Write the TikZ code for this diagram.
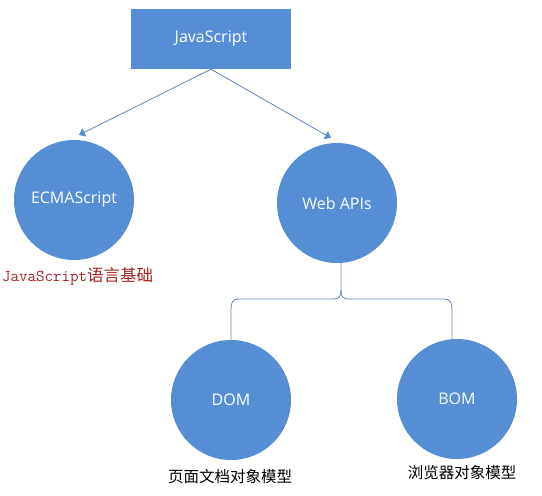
\documentclass[tikz,border=0pt]{standalone}
\usepackage{fontspec}
\setmainfont{Open Sans}
\newfontfamily\cjk{Noto Sans CJK SC}
\usetikzlibrary{arrows.meta}
\definecolor{boxblue}{RGB}{85,142,213}
\definecolor{linkblue}{RGB}{95,135,185}
\definecolor{labelred}{RGB}{165,35,35}
\begin{document}
\begin{tikzpicture}[x=1pt,y=-1pt,
  topbox/.style={fill=boxblue, minimum width=160pt, minimum height=60pt, inner sep=0pt, text=white, font=\fontsize{16}{19}\selectfont},
  bubble/.style={circle, fill=boxblue, minimum size=120pt, inner sep=0pt, text=white, font=\fontsize{16}{19}\selectfont},
  link/.style={draw=linkblue, line width=0.8pt},
  arrowlink/.style={link, -{Triangle[width=9pt,length=6pt,color=boxblue]}},
  cnlabel/.style={font=\cjk\fontsize{15.5}{18}\selectfont, text=black, inner sep=0pt}
]
\useasboundingbox (0,0) rectangle (542,496);
\node[topbox] (js) at (211,39) {JavaScript};
\node[bubble] (ecma) at (74,200) {ECMAScript};
\node[bubble] (web) at (337,203) {Web APIs};
\node[bubble] (dom) at (231,400) {DOM};
\node[bubble] (bom) at (457,399) {BOM};

\coordinate (ecmatip) at (79,135);
\coordinate (webtip) at (331,138);
\draw[arrowlink] (js.south) -- (ecmatip);
\draw[arrowlink] (js.south) -- (webtip);

\coordinate (stem) at (341,263);
\coordinate (bomend) at (452,340);
\draw[link] (stem) -- (341,290) .. controls (341,297) and (339,299) .. (333,299) -- (239,299) .. controls (233,299) and (231,302) .. (231,309) -- (dom.north);
\draw[link] (341,290) .. controls (341,297) and (343,299) .. (349,299) -- (444,299) .. controls (450,299) and (452,302) .. (452,309) -- (bomend);

\node[anchor=west, inner sep=0pt, text=labelred] (ecmalabel) at (2,276) {\ttfamily\fontsize{16.5}{19}\selectfont JavaScript\cjk\fontsize{16.5}{19}\selectfont 语言基础};
\node[cnlabel] (domlabel) at (230,477) {页面文档对象模型};
\node[cnlabel] (bomlabel) at (462,473) {浏览器对象模型};
\end{tikzpicture}
\end{document}
